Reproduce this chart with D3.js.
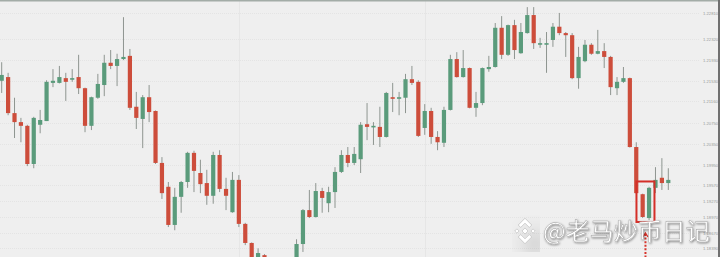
<!DOCTYPE html>
<html>
<head>
<meta charset="utf-8">
<script src="https://cdn.jsdelivr.net/npm/d3@7"></script>
<style>
  html, body { margin: 0; padding: 0; background: #efefef; overflow: hidden; }
  svg { display: block; }
</style>
</head>
<body>
<svg width="720" height="257"></svg>
<script>
// candle data (daily bars, oldest first)
var opens = [1.2154,1.2161,1.2093,1.2076,1.2069,1.1997,1.2071,1.2078,1.2150,1.2150,
  1.2159,1.2157,1.2161,1.2140,1.2069,1.2122,1.2146,1.2188,1.2182,1.2195,
  1.2201,1.2105,1.2082,1.2123,1.2097,1.1999,1.1954,1.1882,1.1935,1.1963,
  1.2018,1.1980,1.1961,1.1937,1.2014,1.1950,1.1906,1.1967,1.1884,1.1848,
  1.1815,1.1825,1.1812,1.1795,1.1808,1.1792,1.1812,1.1846,1.1910,1.1897,
  1.1946,1.1923,1.1944,1.1982,1.2014,1.1999,1.2006,1.2072,1.2067,1.2067,
  1.2048,1.2123,1.2120,1.2122,1.2157,1.2152,1.2065,1.2097,1.2048,1.2037,
  1.2099,1.2195,1.2161,1.2178,1.2103,1.2112,1.2176,1.2180,1.2254,1.2203,
  1.2259,1.2206,1.2244,1.2278,1.2223,1.2223,1.2231,1.2256,1.2244,1.2240,
  1.2159,1.2191,1.2222,1.2205,1.2210,1.2199,1.2140,1.2152,1.2159,1.2029,
  1.1940,1.1895,1.1952,1.1971,1.1961];
var highs = [1.2189,1.2169,1.2122,1.2084,1.2071,1.2086,1.2099,1.2155,1.2176,1.2182,
  1.2169,1.2176,1.2203,1.2141,1.2124,1.2167,1.2203,1.2212,1.2205,1.2274,
  1.2214,1.2133,1.2127,1.2146,1.2098,1.2010,1.1963,1.1952,1.1965,1.2020,
  1.2022,1.2005,1.1986,1.2020,1.2023,1.1971,1.1982,1.1976,1.1886,1.1849,
  1.1838,1.1827,1.1816,1.1812,1.1815,1.1814,1.1855,1.1912,1.1948,1.1961,
  1.1952,1.1954,1.1991,1.2023,1.2029,1.2029,1.2076,1.2112,1.2076,1.2105,
  1.2133,1.2150,1.2133,1.2167,1.2182,1.2155,1.2110,1.2103,1.2059,1.2105,
  1.2203,1.2208,1.2212,1.2179,1.2133,1.2179,1.2201,1.2263,1.2276,1.2260,
  1.2269,1.2263,1.2293,1.2293,1.2235,1.2246,1.2263,1.2282,1.2246,1.2244,
  1.2218,1.2231,1.2225,1.2250,1.2225,1.2201,1.2161,1.2180,1.2160,1.2038,
  1.1941,1.1954,1.1991,1.2008,1.1989];
var lows = [1.2131,1.2089,1.2046,1.2038,1.1993,1.1989,1.2055,1.2078,1.2142,1.2149,
  1.2116,1.2152,1.2129,1.2057,1.2061,1.2120,1.2125,1.2176,1.2144,1.2193,
  1.2099,1.2063,1.2027,1.2076,1.1997,1.1931,1.1878,1.1872,1.1905,1.1952,
  1.1944,1.1942,1.1920,1.1922,1.1944,1.1910,1.1905,1.1878,1.1844,1.1808,
  1.1810,1.1805,1.1790,1.1788,1.1785,1.1788,1.1808,1.1831,1.1895,1.1896,
  1.1905,1.1906,1.1914,1.1980,1.1991,1.1995,1.1980,1.2042,1.2033,1.2029,
  1.2047,1.2095,1.2089,1.2093,1.2146,1.2048,1.2052,1.2035,1.2023,1.2029,
  1.2098,1.2160,1.2160,1.2102,1.2086,1.2108,1.2171,1.2179,1.2195,1.2201,
  1.2195,1.2205,1.2243,1.2214,1.2216,1.2169,1.2218,1.2240,1.2199,1.2157,
  1.2139,1.2189,1.2203,1.2204,1.2178,1.2127,1.2127,1.2150,1.2028,1.1941,
  1.1895,1.1891,1.1942,1.1948,1.1948];
var closes = [1.2165,1.2093,1.2076,1.2069,1.1997,1.2084,1.2080,1.2152,1.2154,1.2161,
  1.2152,1.2159,1.2140,1.2069,1.2123,1.2148,1.2188,1.2182,1.2195,1.2199,
  1.2103,1.2084,1.2123,1.2095,1.1999,1.1942,1.1882,1.1935,1.1963,1.2018,
  1.1984,1.1959,1.1937,1.2014,1.1950,1.1937,1.1967,1.1884,1.1848,1.1812,
  1.1829,1.1812,1.1795,1.1808,1.1792,1.1810,1.1846,1.1910,1.1897,1.1946,
  1.1933,1.1944,1.1982,1.2014,1.1999,1.2016,1.2071,1.2067,1.2069,1.2048,
  1.2131,1.2120,1.2123,1.2157,1.2150,1.2050,1.2097,1.2048,1.2038,1.2099,
  1.2195,1.2161,1.2178,1.2103,1.2112,1.2178,1.2180,1.2254,1.2203,1.2259,
  1.2212,1.2246,1.2278,1.2225,1.2225,1.2225,1.2256,1.2244,1.2240,1.2159,
  1.2199,1.2222,1.2205,1.2210,1.2199,1.2142,1.2152,1.2159,1.2029,1.1942,
  1.1897,1.1952,1.1967,1.1961,1.1967];

// right axis ticks
var tickValues = [1.2281,1.2232,1.2193,1.2153,1.2116,1.2075,1.2035,1.1995,1.1957,1.1927,1.1897,1.1867,1.1839];

// highlighted bars (the red box) and the watermark
var highlightBars = [100, 101];
var watermark = '@老马炒币日记';

var W = 720, H = 257;
var upColor = '#5a9b7b', downColor = '#cd4d3b', wickColor = '#8e9590';

var svg = d3.select('svg');
var n = opens.length;
var data = d3.range(n).map(function(i){
  return {i: i, o: opens[i], h: highs[i], l: lows[i], c: closes[i]};
});

var x = d3.scaleLinear().domain([0, n - 1]).range([1.7, 668.3]);
var y = d3.scaleLinear().domain([1.18, 1.23]).range([268.4, 3.4]);
var bodyW = 4.2;

svg.append('rect').attr('width', W).attr('height', H).attr('fill', '#efefef');

var clip = svg.append('defs').append('clipPath').attr('id', 'plot');
clip.append('rect').attr('x', 0).attr('y', 1).attr('width', 690).attr('height', H);

/**
 * faint grid
 */
svg.append('g')
  .selectAll('line')
  .data(tickValues)
  .enter()
  .append('line')
  .attr('x1', 0).attr('x2', 700)
  .attr('y1', function(d){ return Math.round(y(d)) + 0.5; })
  .attr('y2', function(d){ return Math.round(y(d)) + 0.5; })
  .attr('stroke', '#e4e4e4')
  .attr('stroke-dasharray', '1,1');

svg.append('g')
  .selectAll('line')
  .data([37, 66])
  .enter()
  .append('line')
  .attr('x1', function(d){ return Math.round(x(d)) + 0.5; })
  .attr('x2', function(d){ return Math.round(x(d)) + 0.5; })
  .attr('y1', 0).attr('y2', H)
  .attr('stroke', '#e6e6e6');

/**
 * candles
 */
var candles = svg.append('g').attr('clip-path', 'url(#plot)')
  .selectAll('g')
  .data(data)
  .enter()
  .append('g');

candles.append('line')
  .attr('x1', function(d){ return x(d.i); })
  .attr('x2', function(d){ return x(d.i); })
  .attr('y1', function(d){ return y(d.h); })
  .attr('y2', function(d){ return y(d.l); })
  .attr('stroke', wickColor)
  .attr('stroke-width', 1);

candles.append('rect')
  .attr('x', function(d){ return x(d.i) - bodyW / 2; })
  .attr('width', bodyW)
  .attr('y', function(d){ return y(Math.max(d.o, d.c)); })
  .attr('height', function(d){ return Math.max(1.6, Math.abs(y(d.o) - y(d.c))); })
  .attr('fill', function(d){ return d.c >= d.o ? upColor : downColor; });

/**
 * right axis
 */
var axis = d3.axisRight(y)
  .tickValues(tickValues)
  .tickSize(0)
  .tickPadding(0)
  .tickFormat(d3.format('.5f'));

var ax = svg.append('g')
  .attr('transform', 'translate(703,0)')
  .call(axis);
ax.select('.domain').remove();
ax.selectAll('text')
  .attr('fill', '#9a9c9b')
  .style('font-family', 'Liberation Sans, sans-serif')
  .style('font-size', '4.2px');

// borders
svg.append('rect').attr('x', 0).attr('y', 0).attr('width', W).attr('height', 1.5).attr('fill', '#a3aca7');
svg.append('rect').attr('x', 718).attr('y', 0).attr('width', 2).attr('height', H).attr('fill', '#707070');

/**
 * highlight box + dotted arrow
 */
var hb = data.filter(function(d){ return highlightBars.indexOf(d.i) >= 0; });
var bx0 = x(highlightBars[0]) - 6.2, bx1 = x(highlightBars[1]) + 5.4;
var by0 = y(d3.max(hb, function(d){ return d.h; })) - 5.3;
var by1 = y(d3.min(hb, function(d){ return d.l; })) + 1.8;
svg.append('rect')
  .attr('x', bx0).attr('y', by0)
  .attr('width', bx1 - bx0).attr('height', by1 - by0)
  .attr('fill', 'none')
  .attr('stroke', '#d42f28')
  .attr('stroke-width', 2);

var ax0 = (bx0 + bx1) / 2;
svg.append('line')
  .attr('x1', ax0).attr('x2', ax0)
  .attr('y1', by1 + 12).attr('y2', H)
  .attr('stroke', '#d8342c')
  .attr('stroke-width', 2)
  .attr('stroke-dasharray', '2,1.6');
svg.append('path')
  .attr('d', 'M' + (ax0 - 2.5) + ',' + (by1 + 15) + 'L' + ax0 + ',' + (by1 + 11) + 'L' + (ax0 + 2.5) + ',' + (by1 + 15))
  .attr('fill', 'none')
  .attr('stroke', '#d8342c')
  .attr('stroke-width', 1.3);

/**
 * watermark (logo + text)
 */
var shadow = svg.append('defs').append('filter').attr('id', 'sh')
  .attr('x', '-10%').attr('y', '-10%').attr('width', '130%').attr('height', '140%');
shadow.append('feDropShadow')
  .attr('dx', 0.8).attr('dy', 1).attr('stdDeviation', 0.8)
  .attr('flood-color', '#000').attr('flood-opacity', 0.45);

var logo = svg.append('g')
  .attr('transform', 'translate(525,231) scale(13)')
  .attr('filter', 'url(#sh)')
  .attr('fill', '#ffffff')
  .attr('stroke', '#b5b5b5')
  .attr('stroke-width', 0.05);
var logoShapes = [
  'M0,-0.24L0.24,0L0,0.24L-0.24,0Z',
  'M-0.62,-0.17L-0.45,0L-0.62,0.17L-0.79,0Z',
  'M0.62,-0.17L0.79,0L0.62,0.17L0.45,0Z',
  'M0,-0.98L0.52,-0.46L0.33,-0.27L0,-0.6L-0.33,-0.27L-0.52,-0.46Z',
  'M0,0.98L0.52,0.46L0.33,0.27L0,0.6L-0.33,0.27L-0.52,0.46Z'
];
logo.selectAll('path')
  .data(logoShapes)
  .enter()
  .append('path')
  .attr('d', function(d){ return d; });

svg.append('text')
  .text(watermark)
  .attr('x', 543)
  .attr('y', 240)
  .attr('filter', 'url(#sh)')
  .attr('fill', '#ffffff')
  .attr('stroke', '#9a9a9a')
  .attr('stroke-width', 0.4)
  .style('font-family', 'Noto Sans CJK SC, sans-serif')
  .style('font-size', '24px');
</script>
</body>
</html>
